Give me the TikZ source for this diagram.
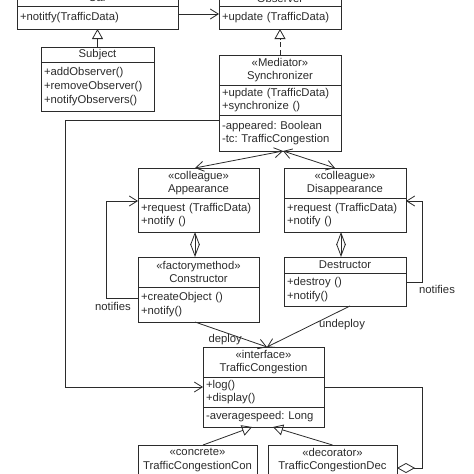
\documentclass[tikz,border=0pt]{standalone}
\usepackage{fontspec}
\setmainfont{Liberation Sans}
\usetikzlibrary{arrows.meta,positioning}
\definecolor{umldark}{HTML}{2B2B2B}
\newcommand{\umlfont}{\fontsize{11.3pt}{13.8pt}\selectfont\frenchspacing}

\begin{document}
\begin{tikzpicture}[
  x=1pt, y=-1pt,
  cls/.style={draw=umldark, line width=0.9pt, inner xsep=3pt, inner ysep=1pt,
    outer sep=0pt, text=umldark, font=\umlfont},
  head/.style={cls, text width=#1, align=center},
  body/.style={cls, text width=#1, align=left},
  assoc/.style={-{Straight Barb[length=8pt,width=10pt]}, line width=0.8pt, draw=umldark},
  both/.style={arrows={Straight Barb[length=8pt,width=10pt]-Straight Barb[length=8pt,width=10pt]},
    line width=0.8pt, draw=umldark},
  pair/.style={arrows={Straight Barb[length=12pt,width=9pt]-Straight Barb[length=12pt,width=9pt]},
    line width=0.8pt, draw=umldark},
  gen/.style={-{Triangle[open,length=10pt,width=11pt]}, line width=0.8pt, draw=umldark},
  real/.style={gen, dash pattern=on 5pt off 3pt},
  aggr/.style={-{Diamond[open,length=18pt,width=10pt]}, line width=0.8pt, draw=umldark},
  lbl/.style={font=\umlfont, text=umldark, inner sep=1pt},
]
  \useasboundingbox (0,0) rectangle (474,474);
  \clip (0,0) rectangle (474,474);

  % observer part
  \node[head=155pt, minimum height=16pt, anchor=north] (carhd) at (97.5,-10) {Car};
  \node[body=155pt, minimum height=23pt, below=0pt of carhd] (carops) {+notitfy(TrafficData)};
  \node[head=116pt, minimum height=16pt, anchor=north] (obshd) at (280,-10) {Observer};
  \node[body=116pt, minimum height=23pt, below=0pt of obshd] (obsops) {+update (TrafficData)};
  \node[head=107pt, minimum height=15pt, anchor=north] (subjhd) at (97.5,47) {Subject};
  \node[body=107pt, minimum height=49pt, below=0pt of subjhd] (subjops)
    {+addObserver()\\+removeObserver()\\+notifyObservers()};

  % mediator
  \node[head=116pt, minimum height=30pt, anchor=north] (synchd) at (280,55) {«Mediator»\\Synchronizer};
  \node[body=116pt, minimum height=30pt, below=0pt of synchd] (syncops)
    {+update (TrafficData)\\+synchronize ()};
  \node[body=116pt, minimum height=36pt, below=0pt of syncops] (syncattr)
    {-appeared: Boolean\\-tc: TrafficCongestion};

  % colleagues
  \node[head=115pt, minimum height=30pt, anchor=north] (appearhd) at (198.5,168) {«colleague»\\Appearance};
  \node[body=115pt, minimum height=34pt, below=0pt of appearhd] (appearops)
    {+request (TrafficData)\\+notify ()};
  \node[head=116pt, minimum height=30pt, anchor=north] (disaphd) at (345,168) {«colleague»\\Disappearance};
  \node[body=116pt, minimum height=34pt, below=0pt of disaphd] (disapops)
    {+request (TrafficData)\\+notify ()};
  \node[head=115pt, minimum height=30pt, anchor=north] (constrhd) at (198.5,257) {«factorymethod»\\Constructor};
  \node[body=115pt, minimum height=35pt, below=0pt of constrhd] (constrops)
    {+createObject ()\\+notify()};
  \node[head=116pt, minimum height=16pt, anchor=north] (destrhd) at (345,257) {Destructor};
  \node[body=116pt, minimum height=33pt, below=0pt of destrhd] (destrops)
    {+destroy ()\\+notify()};

  % traffic congestion
  \node[head=115pt, minimum height=30pt, anchor=north] (tchd) at (263.5,347) {«interface»\\TrafficCongestion};
  \node[body=115pt, minimum height=30pt, below=0pt of tchd] (tcops) {+log()\\+display()};
  \node[body=115pt, minimum height=20pt, below=0pt of tcops] (tcattr) {-averagespeed: Long};
  \node[head=113pt, minimum height=30pt, anchor=north] (tcconhd) at (197.5,445) {«concrete»\\TrafficCongestionCon};
  \node[head=123pt, minimum height=30pt, anchor=north] (tcdechd) at (332.5,445) {«decorator»\\TrafficCongestionDec};

  % connectors
  \draw[assoc] ([yshift=3.5pt]carops.east) -- ([yshift=3.5pt]obsops.west);
  \draw[gen] (subjhd.north) -- (carops.south);
  \draw[real] (synchd.north) -- (obsops.south);
  \draw[assoc] ([yshift=-5pt]syncattr.north west) -- ++(-154,0) |- ([yshift=5pt]tcops.west);
  \draw[both] ([xshift=3pt]syncattr.south) -- ([xshift=-3.5pt]appearhd.north);
  \draw[both] ([xshift=3pt]syncattr.south) -- ([xshift=-10pt]disaphd.north);
  \draw[pair] ([xshift=-3.5pt]appearops.south) -- ([xshift=-3.5pt]constrhd.north);
  \draw[pair] ([xshift=-4pt]disapops.south) -- ([xshift=-4pt]destrhd.north);
  \draw[assoc] ([yshift=6.5pt]constrops.west) -- ++(-32,0) node[lbl, below=3pt, xshift=7pt]{notifies}
    |- ([yshift=-3pt]appearops.north west);
  \draw[assoc] ([yshift=7.5pt]destrops.east) -- ++(16,0) node[lbl, below=2pt, xshift=15pt]{notifies}
    |- ([yshift=-3pt]disapops.north east);
  \draw[assoc] ([xshift=-3.5pt]constrops.south) -- node[lbl, pos=0.42, below]{deploy} ([xshift=3.5pt]tchd.north);
  \draw[assoc] ([xshift=5pt]destrops.south) -- node[lbl, pos=0.45, right=5pt]{undeploy} ([xshift=3.5pt]tchd.north);
  \draw[gen] ([xshift=5.5pt]tcconhd.north) -- ([xshift=-11.5pt]tcattr.south);
  \draw[gen] (tcdechd.north) -- ([xshift=9.5pt]tcattr.south);
  \draw[aggr] ([yshift=5pt]tcops.east) -- ++(98,0) |- ([yshift=-8pt]tcdechd.east);
\end{tikzpicture}
\end{document}
